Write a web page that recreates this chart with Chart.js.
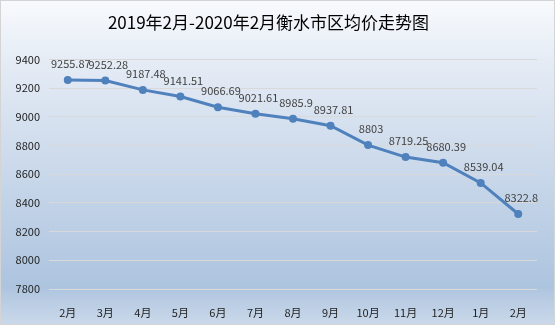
<!DOCTYPE html>
<html lang="zh">
<head>
  <meta charset="UTF-8" />
  <title>衡水市区均价走势图</title>
  <style>
    body { margin: 0; background: #fff; }
    .wrap { width: 555px; height: 325px; position: relative; }
  </style>
</head>
<body>
  <div class="wrap"><canvas id="priceChart"></canvas></div>

  <script src="https://cdn.jsdelivr.net/npm/chart.js"></script>
  <script>
    const months = ['2月', '3月', '4月', '5月', '6月', '7月', '8月', '9月', '10月', '11月', '12月', '1月', '2月'];
    const avgPrice = [9255.87, 9252.28, 9187.48, 9141.51, 9066.69, 9021.61, 8985.9, 8937.81, 8803, 8719.25, 8680.39, 8539.04, 8322.8];
    const yMin = 7800, yMax = 9400, yStep = 200;

    const fontFamily = '"Noto Sans CJK SC", "Liberation Sans", sans-serif';

    // fondo degradado + borde
    const background = {
      id: 'background',
      beforeDraw(chart) {
        const { ctx, width, height } = chart;
        const g = ctx.createLinearGradient(0, 0, 0, height);
        g.addColorStop(0, '#f8fafd');
        g.addColorStop(0.2, '#e4ebf5');
        g.addColorStop(0.88, '#adc4df');
        g.addColorStop(1, '#cbd9ea');
        ctx.save();
        ctx.fillStyle = g;
        ctx.fillRect(0, 0, width, height);
        ctx.strokeStyle = '#d4d4d4';
        ctx.lineWidth = 1;
        ctx.strokeRect(0.5, 0.5, width - 1, height - 1);
        ctx.restore();
      }
    };

    // etiquetas de valor encima de cada punto
    const valueLabels = {
      id: 'valueLabels',
      afterDatasetsDraw(chart) {
        const { ctx } = chart;
        const meta = chart.getDatasetMeta(0);
        ctx.save();
        ctx.font = '11px ' + fontFamily;
        ctx.fillStyle = '#404040';
        ctx.textAlign = 'center';
        ctx.textBaseline = 'middle';
        meta.data.forEach((pt, i) => {
          ctx.fillText(String(avgPrice[i]), pt.x + 3, pt.y - 16);
        });
        ctx.restore();
      }
    };

    new Chart(document.getElementById('priceChart'), {
      type: 'line',
      data: {
        labels: months,
        datasets: [{
          data: avgPrice,
          borderColor: '#4f81bd',
          backgroundColor: '#4f81bd',
          borderWidth: 3,
          pointRadius: 4,
          pointBackgroundColor: '#4f81bd',
          pointBorderWidth: 0,
          tension: 0
        }]
      },
      options: {
        responsive: true,
        maintainAspectRatio: false,
        animation: false,
        layout: { padding: { left: 0, right: 18, top: 0, bottom: 0 } },
        plugins: {
          legend: { display: false },
          tooltip: { enabled: false },
          title: {
            display: true,
            text: '2019年2月-2020年2月衡水市区均价走势图',
            color: '#000',
            font: { family: fontFamily, size: 17, weight: 'normal' },
            padding: { top: 12, bottom: 27 }
          }
        },
        scales: {
          x: {
            offset: true,
            grid: { display: false },
            border: { display: false },
            ticks: { color: '#222', font: { family: fontFamily, size: 11 }, padding: 9, maxRotation: 0 },
            afterFit(scale) { scale.height = 36; }
          },
          y: {
            min: yMin,
            max: yMax,
            ticks: {
              stepSize: yStep,
              color: '#222',
              font: { family: fontFamily, size: 11 },
              padding: 9,
              callback: (v) => String(v)
            },
            grid: { color: '#d9d9d9', drawTicks: false },
            border: { display: false },
            afterFit(scale) { scale.width = 49; }
          }
        }
      },
      plugins: [background, valueLabels]
    });
  </script>
</body>
</html>
